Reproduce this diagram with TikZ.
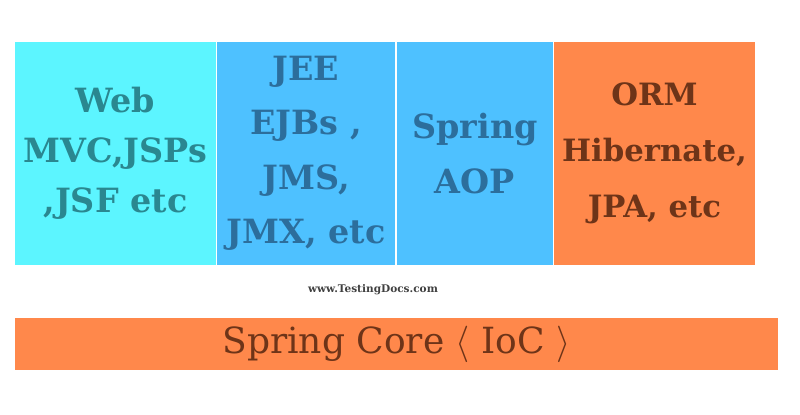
\documentclass[tikz,border=0pt]{standalone}
\usepackage{fontspec}
\setmainfont{DejaVu Serif}
\usepackage{tikz}

\definecolor{webfill}{HTML}{5CF5FF}
\definecolor{jeefill}{HTML}{4EC1FF}
\definecolor{ormfill}{HTML}{FF884B}
\definecolor{webtext}{HTML}{2A8790}
\definecolor{jeetext}{HTML}{2C6E9C}
\definecolor{ormtext}{HTML}{6E3418}

\tikzset{
  module/.style={rectangle, inner sep=0pt, align=center, minimum height=4.46cm,
    font=\bfseries\fontsize{19}{31}\selectfont},
}

\begin{document}
\begin{tikzpicture}[x=0.02cm,y=-0.02cm]
\useasboundingbox[fill=white] (0,0) rectangle (800,414);

% Draw the four module boxes of the upper row
\node[module, fill=webfill, text=webtext, minimum width=4.02cm,
  font=\bfseries\fontsize{19}{28.5}\selectfont] (web) at (115.5,153.5)
  {Web\\MVC,JSPs\\,JSF etc};
\node[module, fill=jeefill, text=jeetext, minimum width=3.56cm] (jee) at (306,153.5)
  {JEE\\EJBs ,\\JMS,\\JMX, etc};
\node[module, fill=jeefill, text=jeetext, minimum width=3.12cm] (aop) at (475,153.5)
  {Spring\\AOP};
\node[module, fill=ormfill, text=ormtext, minimum width=4.02cm,
  font=\bfseries\fontsize{17.5}{32}\selectfont] (orm) at (654.5,153.5)
  {ORM\\Hibernate,\\JPA, etc};

% Add the site label
\node[text=black!75, font=\bfseries\fontsize{6}{7}\selectfont] (site) at (373,290)
  {www.TestingDocs.com};

% Draw the core box underneath
\node[rectangle, fill=ormfill, text=ormtext, minimum width=15.26cm, minimum height=1.04cm,
  font=\fontsize{20.5}{24}\selectfont] (core) at (396.5,344)
  {Spring Core \ensuremath{\langle} IoC \ensuremath{\rangle}};

\end{tikzpicture}
\end{document}
